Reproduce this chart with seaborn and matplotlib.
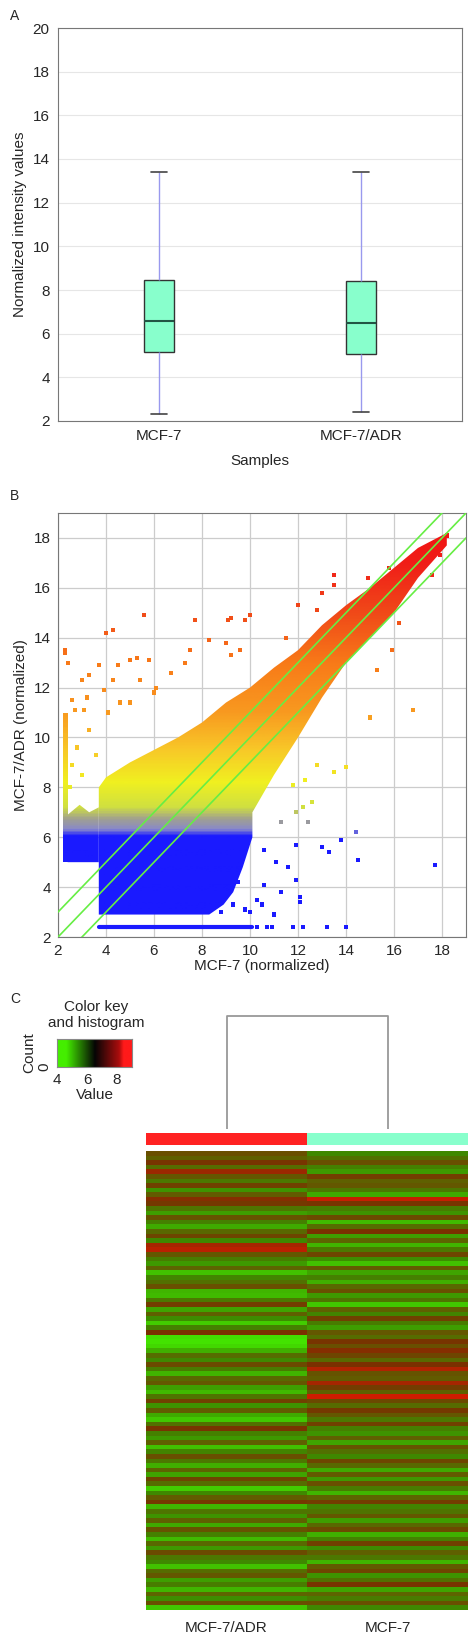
import numpy as np
import matplotlib
matplotlib.use("Agg")
import matplotlib.pyplot as plt
import seaborn as sns
import pandas as pd
from matplotlib.colors import LinearSegmentedColormap
from matplotlib.patches import Polygon

sns.set_style("white")
plt.rcParams['font.family'] = ['Liberation Sans', 'DejaVu Sans']

# ---------------- data ----------------
samples = ["MCF-7", "MCF-7/ADR"]
mcf7_summary = [2.3, 5.15, 6.6, 8.45, 13.4]       # min, q1, median, q3, max
adr_summary = [2.4, 5.05, 6.5, 8.4, 13.4]

# dense region envelope of scatter (x, y)
main_upper_x = [3.7, 4, 5, 6, 7, 8, 9, 10, 11, 12, 13, 14, 15, 16, 17, 18.2]
main_upper_y = [8.0, 8.4, 9.0, 9.5, 10.0, 10.6, 11.4, 12.0, 12.8, 13.5, 14.5, 15.3, 16.0, 16.8, 17.6, 18.2]
main_lower_x = [18.2, 17, 16, 15, 14, 13, 12, 11, 10.1, 10.1, 9.7, 9.3, 8.9, 8.3, 3.7]
main_lower_y = [17.7, 16.4, 15.0, 14.0, 13.0, 11.6, 10.0, 8.5, 7.0, 6.0, 4.8, 3.8, 3.3, 2.9, 2.9]
block_x = [2.4, 3.7, 3.7, 3.3, 2.9, 2.4]
block_y = [5.0, 5.0, 7.2, 7.0, 7.3, 6.9]
strip_x = [2.2, 2.4, 2.4, 2.2]
strip_y = [5.0, 5.0, 11.0, 11.0]
floor_x = [3.7, 10.1]
floor_y = [2.4, 2.4]

out_x = [5.6, 4.0, 4.3, 7.7, 9.1, 9.2, 9.8, 10.0, 2.3, 2.3, 2.4, 3.7, 4.5, 5.0, 5.3, 5.8, 7.3, 7.5, 8.3, 9.0,
         9.2, 9.6, 3.0, 3.3, 4.3, 5.4, 6.7, 2.6, 3.2, 3.9, 4.6, 5.0, 6.1, 6.0, 2.7, 3.1, 4.1, 2.3, 2.3, 3.3,
         2.8, 3.6, 2.6, 3.0, 2.5, 12.8, 14.0, 13.5, 12.3, 11.8, 12.6, 12.2, 11.9, 11.3, 12.4, 14.4, 13.8, 13.0,
         13.3, 14.5, 17.7, 11.9, 10.6, 11.1, 11.6, 11.9, 10.6, 11.3, 12.1, 12.1, 10.3, 10.5, 11.0, 16.8, 15.0,
         15.9, 15.3, 14.2, 16.2, 13.0, 13.5, 13.5, 14.9, 15.8, 17.6, 18.2, 17.9, 12.8, 12.0, 11.5, 9.5, 9.8,
         10.0, 9.3, 8.8, 10.3, 10.7, 10.9, 11.8, 12.2, 13.2, 14.0]
out_y = [14.9, 14.2, 14.3, 14.7, 14.7, 14.8, 14.7, 14.9, 13.5, 13.4, 13.0, 12.9, 12.9, 13.1, 13.2, 13.1, 13.0,
         13.5, 13.9, 13.8, 13.3, 13.5, 12.3, 12.5, 12.3, 12.3, 12.6, 11.5, 11.6, 11.9, 11.4, 11.4, 12.0, 11.8,
         11.1, 11.1, 11.0, 10.5, 10.1, 10.3, 9.6, 9.3, 8.9, 8.5, 8.0, 8.9, 8.8, 8.6, 8.3, 8.1, 7.4, 7.2, 7.0,
         6.6, 6.6, 6.2, 5.9, 5.6, 5.4, 5.1, 4.9, 5.7, 5.5, 5.0, 4.8, 4.3, 4.1, 3.8, 3.6, 3.4, 3.5, 3.3, 2.9,
         11.1, 10.8, 13.5, 12.7, 14.0, 14.6, 15.8, 16.5, 16.1, 16.4, 16.8, 16.5, 18.1, 17.3, 15.1, 15.3, 14.0,
         4.2, 3.1, 3.0, 3.3, 3.0, 2.4, 2.4, 2.4, 2.4, 2.4, 2.4, 2.4]

heat_rows = list(range(100))
adr_values = [7.2, 6.8, 7.8, 6.5, 8.2, 7.0, 6.2, 7.5, 5.6, 6.9,
              8.0, 7.7, 6.3, 5.4, 7.1, 6.0, 5.2, 6.6, 7.4, 5.8,
              8.3, 8.5, 7.0, 6.1, 5.5, 6.7, 4.8, 5.9, 6.4, 7.2,
              5.0, 4.9, 6.2, 7.6, 5.3, 6.8, 5.7, 4.6, 6.0, 7.9,
              4.3, 4.2, 4.4, 5.1, 6.5, 5.8, 7.3, 6.1, 5.0, 6.6,
              7.0, 5.4, 4.9, 6.3, 7.5, 5.6, 6.9, 5.2, 4.7, 6.4,
              7.8, 6.0, 5.5, 6.8, 4.8, 5.9, 7.2, 6.2, 5.1, 6.7,
              5.3, 7.4, 6.5, 4.6, 5.8, 6.9, 7.7, 5.0, 6.3, 5.6,
              6.8, 5.2, 7.1, 6.0, 4.9, 6.6, 5.5, 7.3, 6.2, 5.8,
              4.8, 6.5, 7.0, 5.4, 6.1, 5.0, 6.7, 5.7, 7.2, 4.7]
mcf7_values = [5.8, 6.4, 7.2, 6.0, 5.5, 7.6, 6.8, 7.0, 6.2, 5.2,
               8.6, 7.8, 6.1, 5.6, 7.3, 4.9, 6.5, 7.9, 5.4, 6.7,
               5.0, 6.2, 7.4, 5.7, 4.8, 6.9, 5.3, 6.0, 5.1, 6.6,
               7.2, 5.5, 6.3, 4.7, 6.8, 5.9, 7.5, 6.1, 5.4, 7.0,
               6.5, 7.8, 7.2, 8.0, 7.4, 6.6, 7.9, 8.4, 7.1, 6.9,
               8.3, 7.6, 6.8, 8.7, 7.3, 6.5, 7.7, 7.0, 6.2, 7.5,
               6.0, 5.6, 6.8, 5.3, 7.1, 6.4, 5.8, 7.4, 6.6, 5.2,
               6.9, 5.5, 7.2, 6.1, 5.0, 6.7, 7.6, 5.9, 6.3, 7.0,
               5.4, 6.6, 7.3, 5.1, 6.0, 7.5, 5.7, 6.8, 6.2, 5.0,
               6.9, 7.4, 5.6, 6.4, 7.8, 5.3, 6.7, 6.1, 7.2, 5.8]
heat_cols = ["MCF-7/ADR", "MCF-7"]

# ---------------- figure ----------------
W, H = 474, 1636
fig = plt.figure(figsize=(W / 100, H / 100), dpi=100)

def rect(x0, y0, x1, y1):
    return [x0 / W, 1 - y1 / H, (x1 - x0) / W, (y1 - y0) / H]

FS = 11

# ---- Panel A ----
axA = fig.add_axes(rect(58, 28, 462, 421))
dfA = pd.DataFrame({"Samples": [samples[0]] * 5 + [samples[1]] * 5,
                    "val": mcf7_summary + adr_summary})
sns.boxplot(data=dfA, x="Samples", y="val", ax=axA, width=0.15, whis=10,
            color="#88ffcc", saturation=1,
            boxprops=dict(facecolor="#88ffcc", edgecolor="#333333", linewidth=1),
            medianprops=dict(color="#225544", linewidth=1.5),
            whiskerprops=dict(color="#9999ee", linewidth=1),
            capprops=dict(color="#444444", linewidth=1.2), showfliers=False)
axA.set_ylim(2, 20)
axA.set_xlim(-0.5, 1.5)
axA.set_yticks(range(2, 21, 2))
axA.yaxis.grid(True, color="#e6e6e6", linewidth=0.8)
axA.set_axisbelow(True)
axA.set_ylabel("Normalized intensity values", fontsize=FS)
axA.set_xlabel("Samples", fontsize=FS, labelpad=8)
axA.tick_params(labelsize=FS, length=3, direction="in", pad=6)
for s in axA.spines.values():
    s.set_color("#777777")
fig.text(10 / W, 1 - 20 / H, "A", fontsize=10)

# ---- Panel B ----
axB = fig.add_axes(rect(58, 513, 466, 937))
axB.set_xlim(2, 19)
axB.set_ylim(2, 19)
axB.set_xticks(range(2, 19, 2))
axB.set_yticks(range(2, 19, 2))
axB.grid(True, color="#cccccc", linewidth=0.9)
axB.set_axisbelow(True)
cmapB = LinearSegmentedColormap.from_list("b", [
    (0.0, "#1a1aff"), (4.0 / 17, "#1a1aff"), (4.3 / 17, "#8888cc"), (4.7 / 17, "#a0a090"),
    (5.2 / 17, "#d0e040"), (6.2 / 17, "#f0f020"), (7.5 / 17, "#f8c828"),
    (9.0 / 17, "#f89a20"), (11.0 / 17, "#f87a18"), (13.0 / 17, "#f04a18"),
    (15.0 / 17, "#f01e18"), (1.0, "#f01010")])
grad = np.linspace(2, 19, 400).reshape(-1, 1)
for px, py in [(main_upper_x + main_lower_x, main_upper_y + main_lower_y),
               (block_x, block_y), (strip_x, strip_y)]:
    poly = Polygon(np.column_stack([px, py]), closed=True, facecolor="none", edgecolor="none")
    axB.add_patch(poly)
    im = axB.imshow(grad, extent=[2, 19, 2, 19], origin="lower", aspect="auto",
                    cmap=cmapB, vmin=2, vmax=19, zorder=2)
    im.set_clip_path(poly)
axB.plot(floor_x, floor_y, color="#1a1aff", linewidth=3, zorder=2)
sns.scatterplot(x=out_x, y=out_y, hue=out_y, palette=cmapB, hue_norm=(2, 19),
                marker="s", s=9, linewidth=0, legend=False, ax=axB, zorder=3)
diag = np.array([2, 19])
for off in [-1, 0, 1]:
    axB.plot(diag, diag + off, color="#66ee44", linewidth=1.2, zorder=4)
axB.set_xlabel("MCF-7 (normalized)", fontsize=FS, labelpad=1)
axB.set_ylabel("MCF-7/ADR (normalized)", fontsize=FS)
axB.tick_params(labelsize=FS, length=3, direction="in", pad=5)
for s in axB.spines.values():
    s.set_color("#777777")
fig.text(10 / W, 1 - 500 / H, "B", fontsize=10)

# ---- Panel C ----
fig.text(10 / W, 1 - 1003 / H, "C", fontsize=10)
fig.text(96 / W, 1 - 1015 / H, "Color key\nand histogram", fontsize=11,
         ha="center", va="center", linespacing=1.1)
keycmap = LinearSegmentedColormap.from_list("k", [
    (0.0, "#44ee00"), (0.12, "#44ee00"), (0.5, "#050505"), (0.82, "#aa0d0d"), (0.88, "#ff1a1a"), (1.0, "#ff1a1a")])
axK = fig.add_axes(rect(57, 1039, 132, 1067))
axK.imshow(np.linspace(4, 9, 200).reshape(1, -1), extent=[4, 9, 0, 1], aspect="auto", cmap=keycmap)
axK.set_xlim(4, 9)
axK.set_xticks([4, 6, 8])
axK.set_yticks([0])
axK.set_yticks(np.linspace(0, 1, 8), minor=True)
axK.set_yticklabels(["0"], rotation=90, va="center")
axK.tick_params(labelsize=FS, length=3, pad=1)
axK.tick_params(which="minor", length=3)
axK.set_xlabel("Value", fontsize=FS, labelpad=1)
axK.set_ylabel("Count", fontsize=FS, labelpad=1)
for s in axK.spines.values():
    s.set_color("#888888")

# dendrogram
axD = fig.add_axes(rect(146, 1015, 468, 1129))
axD.plot([0.5, 0.5, 1.5, 1.5], [0, 1, 1, 0], color="#999999", linewidth=1.3)
axD.set_xlim(0, 2)
axD.set_ylim(0, 1.01)
axD.axis("off")

# side color bar
axS = fig.add_axes(rect(146, 1133, 468, 1145))
sns.heatmap(pd.DataFrame([[0, 1]], columns=heat_cols), ax=axS, cbar=False,
            cmap=["#ff2222", "#88ffcc"], xticklabels=False, yticklabels=False)

# heatmap
heatcmap = LinearSegmentedColormap.from_list("h", [
    (0.0, "#44ee00"), (0.35, "#3d8a00"), (0.55, "#5e6200"), (0.78, "#7a3000"), (1.0, "#ee1500")])
axH = fig.add_axes(rect(146, 1151, 468, 1610))
dfH = pd.DataFrame({heat_cols[0]: adr_values, heat_cols[1]: mcf7_values}, index=heat_rows)
sns.heatmap(dfH, ax=axH, cmap=heatcmap, vmin=4, vmax=9, cbar=False, yticklabels=False)
axH.tick_params(length=0, labelsize=FS, pad=8)
axH.set_xticklabels(heat_cols, rotation=0)

fig.savefig("out.png", dpi=100)
